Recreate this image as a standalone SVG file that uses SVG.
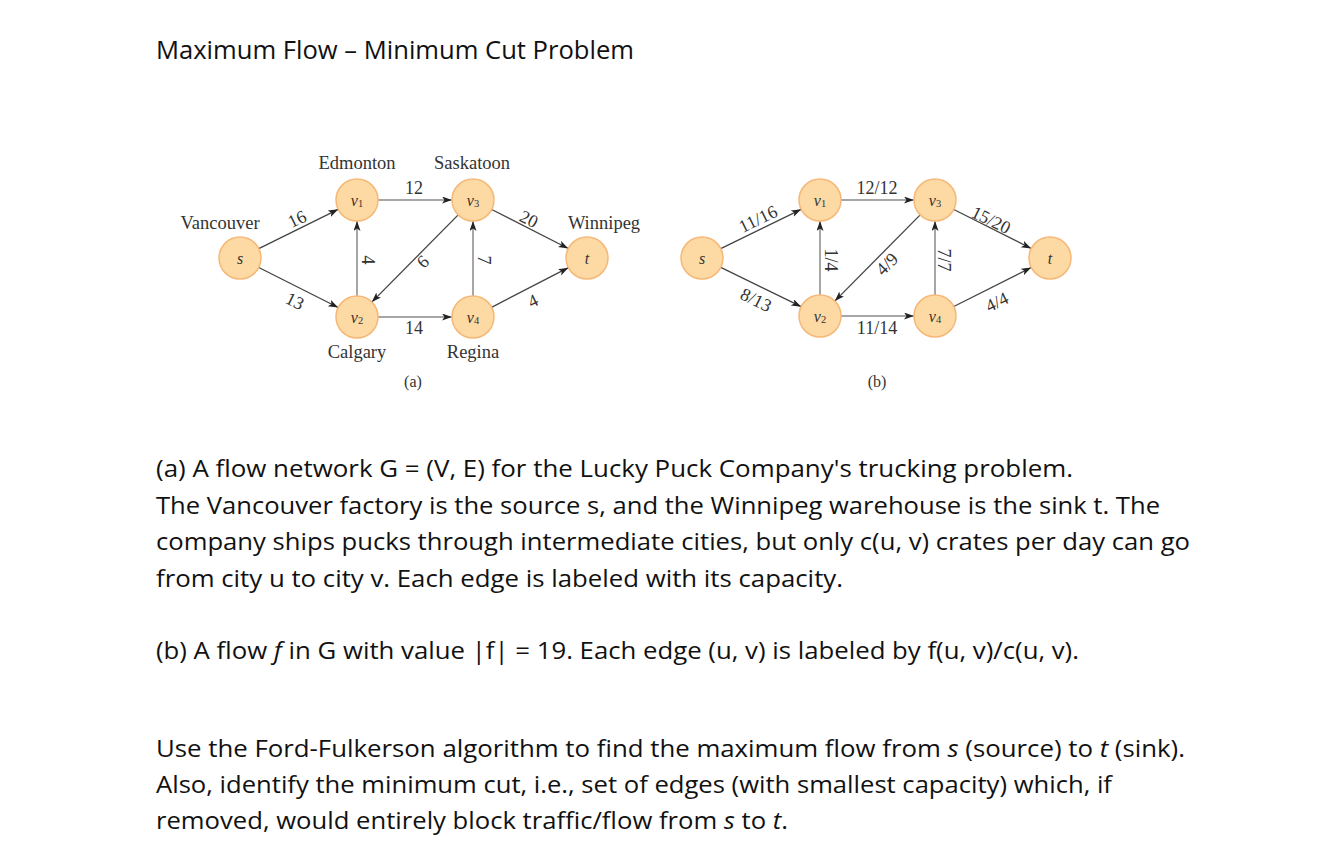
<svg xmlns="http://www.w3.org/2000/svg" width="1336" height="852" viewBox="0 0 1336 852">
<defs>
<marker id="ah" markerUnits="userSpaceOnUse" markerWidth="11" markerHeight="8" refX="10" refY="3.5" orient="auto">
<path d="M0,0 L10,3.5 L0,7 L2.5,3.5 z" fill="#222"/>
</marker>
</defs>
<style>
.bg{fill:#fff}
.title{font-family:"Open Sans","Noto Sans",sans-serif;font-size:26px;fill:#111}
.body{font-family:"Open Sans","Noto Sans",sans-serif;font-size:23.5px;fill:#111}
.it{font-style:italic}
.city{font-family:"Liberation Serif",serif;font-size:18.5px;fill:#333}
.elab{font-family:"Liberation Serif",serif;font-size:18px;fill:#333;text-anchor:middle;dominant-baseline:central}
.node circle{fill:#fdd9a3;stroke:#f6b877;stroke-width:1.5}
.node text{font-family:"Liberation Serif",serif;font-style:italic;font-size:16px;fill:#333;text-anchor:middle;dominant-baseline:central}
.sub{font-size:10.5px;font-style:normal}
.e{stroke:#444;stroke-width:1.3;fill:none;marker-end:url(#ah)}
.es{stroke:#888;stroke-width:1.5;fill:none;marker-end:url(#ah)}
</style>
<rect class="bg" x="0" y="0" width="1336" height="852"/>

<text class="title" x="156" y="59" textLength="478" lengthAdjust="spacingAndGlyphs">Maximum Flow – Minimum Cut Problem</text>

<!-- Graph (a) connectors -->
<g id="connectors-a">
<line class="e" x1="258.8" y1="248.7" x2="338.2" y2="209.3"/>
<line class="e" x1="258.8" y1="267.5" x2="338.2" y2="307.5"/>
<line class="es" x1="378" y1="200" x2="452" y2="200"/>
<line class="es" x1="378" y1="317" x2="452" y2="317"/>
<line class="es" x1="357" y1="296" x2="357" y2="221"/>
<line class="es" x1="473" y1="296" x2="473" y2="221"/>
<line class="e" x1="458.2" y1="214.9" x2="371.8" y2="302.1"/>
<line class="e" x1="491.7" y1="209.5" x2="568.3" y2="248.5"/>
<line class="e" x1="491.6" y1="307.3" x2="568.4" y2="267.7"/>
<text class="elab" x="297" y="219" transform="rotate(-26 297 219)">16</text>
<text class="elab" x="295" y="301" transform="rotate(26 295 301)">13</text>
<text class="elab" x="414" y="188">12</text>
<text class="elab" x="414" y="328">14</text>
<text class="elab" x="368" y="260" transform="rotate(90 368 260)">4</text>
<text class="elab" x="423" y="262" transform="rotate(135 423 262)">9</text>
<text class="elab" x="484" y="260" transform="rotate(90 484 260)">7</text>
<text class="elab" x="529" y="219" transform="rotate(26 529 219)">20</text>
<text class="elab" x="533" y="301" transform="rotate(-26 533 301)">4</text>
</g>

<!-- Graph (a) nodes -->
<g id="a-s" class="node"><circle cx="240" cy="258" r="21"/><text x="240" y="258">s</text></g>
<g id="a-v1" class="node"><circle cx="357" cy="200" r="21"/><text x="357" y="200">v<tspan class="sub" dy="3">1</tspan></text></g>
<g id="a-v2" class="node"><circle cx="357" cy="317" r="21"/><text x="357" y="317">v<tspan class="sub" dy="3">2</tspan></text></g>
<g id="a-v3" class="node"><circle cx="473" cy="200" r="21"/><text x="473" y="200">v<tspan class="sub" dy="3">3</tspan></text></g>
<g id="a-v4" class="node"><circle cx="473" cy="317" r="21"/><text x="473" y="317">v<tspan class="sub" dy="3">4</tspan></text></g>
<g id="a-t" class="node"><circle cx="587" cy="258" r="21"/><text x="587" y="258">t</text></g>

<g id="a-cities">
<text class="city" x="357" y="169" text-anchor="middle">Edmonton</text>
<text class="city" x="472" y="169" text-anchor="middle">Saskatoon</text>
<text class="city" x="220" y="229" text-anchor="middle">Vancouver</text>
<text class="city" x="604" y="229" text-anchor="middle">Winnipeg</text>
<text class="city" x="357" y="358" text-anchor="middle">Calgary</text>
<text class="city" x="473" y="358" text-anchor="middle">Regina</text>
<text class="city" x="413" y="387" text-anchor="middle" style="font-size:16px">(a)</text>
</g>

<!-- Graph (b) connectors -->
<g id="connectors-b">
<line class="e" x1="720.8" y1="248.7" x2="801.2" y2="209.3"/>
<line class="e" x1="720.8" y1="267.3" x2="801.2" y2="306.7"/>
<line class="es" x1="841" y1="200" x2="914" y2="200"/>
<line class="es" x1="841" y1="316" x2="914" y2="316"/>
<line class="es" x1="820" y1="295" x2="820" y2="221"/>
<line class="es" x1="935" y1="295" x2="935" y2="221"/>
<line class="e" x1="920.2" y1="214.9" x2="834.8" y2="301.1"/>
<line class="e" x1="953.8" y1="209.5" x2="1031.2" y2="248.5"/>
<line class="e" x1="953.8" y1="306.5" x2="1031.2" y2="267.5"/>
<text class="elab" x="758" y="219" transform="rotate(-26 758 219)">11/16</text>
<text class="elab" x="756" y="300" transform="rotate(26 756 300)">8/13</text>
<text class="elab" x="877" y="188">12/12</text>
<text class="elab" x="877" y="328">11/14</text>
<text class="elab" x="831" y="260" transform="rotate(90 831 260)">1/4</text>
<text class="elab" x="887" y="264" transform="rotate(-45 887 264)">4/9</text>
<text class="elab" x="944" y="260" transform="rotate(90 944 260)">7/7</text>
<text class="elab" x="991" y="220" transform="rotate(26 991 220)">15/20</text>
<text class="elab" x="997" y="302" transform="rotate(-26 997 302)">4/4</text>
</g>

<!-- Graph (b) nodes -->
<g id="b-s" class="node"><circle cx="702" cy="258" r="21"/><text x="702" y="258">s</text></g>
<g id="b-v1" class="node"><circle cx="820" cy="200" r="21"/><text x="820" y="200">v<tspan class="sub" dy="3">1</tspan></text></g>
<g id="b-v2" class="node"><circle cx="820" cy="316" r="21"/><text x="820" y="316">v<tspan class="sub" dy="3">2</tspan></text></g>
<g id="b-v3" class="node"><circle cx="935" cy="200" r="21"/><text x="935" y="200">v<tspan class="sub" dy="3">3</tspan></text></g>
<g id="b-v4" class="node"><circle cx="935" cy="316" r="21"/><text x="935" y="316">v<tspan class="sub" dy="3">4</tspan></text></g>
<g id="b-t" class="node"><circle cx="1050" cy="258" r="21"/><text x="1050" y="258">t</text></g>
<text class="city" x="877" y="387" text-anchor="middle" style="font-size:16px">(b)</text>

<!-- Caption text -->
<g id="caption">
<text class="body" x="156" y="477" textLength="917" lengthAdjust="spacingAndGlyphs">(a) A flow network G = (V, E) for the Lucky Puck Company's trucking problem.</text>
<text class="body" x="156" y="514" textLength="1004" lengthAdjust="spacingAndGlyphs">The Vancouver factory is the source s, and the Winnipeg warehouse is the sink t. The</text>
<text class="body" x="156" y="550" textLength="1034" lengthAdjust="spacingAndGlyphs">company ships pucks through intermediate cities, but only c(u, v) crates per day can go</text>
<text class="body" x="156" y="587" textLength="687" lengthAdjust="spacingAndGlyphs">from city u to city v. Each edge is labeled with its capacity.</text>
<text class="body" x="156" y="659" textLength="923" lengthAdjust="spacingAndGlyphs">(b) A flow <tspan class="it">f</tspan> in G with value |f| = 19. Each edge (u, v) is labeled by f(u, v)/c(u, v).</text>
<text class="body" x="156" y="757" textLength="1029" lengthAdjust="spacingAndGlyphs">Use the Ford-Fulkerson algorithm to find the maximum flow from <tspan class="it">s</tspan> (source) to <tspan class="it">t</tspan> (sink).</text>
<text class="body" x="156" y="793" textLength="956" lengthAdjust="spacingAndGlyphs">Also, identify the minimum cut, i.e., set of edges (with smallest capacity) which, if</text>
<text class="body" x="156" y="829" textLength="632" lengthAdjust="spacingAndGlyphs">removed, would entirely block traffic/flow from <tspan class="it">s</tspan> to <tspan class="it">t</tspan>.</text>
</g>
</svg>
